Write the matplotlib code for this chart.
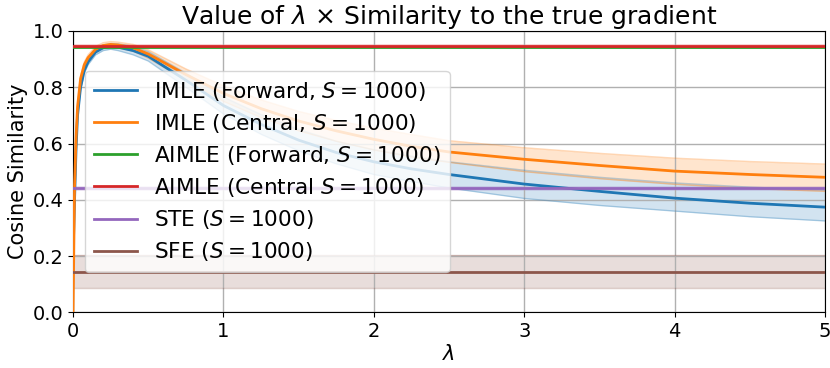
import numpy as np
import matplotlib.pyplot as plt

# lambda knots
lam = [0.0, 0.01, 0.02, 0.03, 0.05, 0.075, 0.1, 0.15, 0.2, 0.25, 0.3, 0.4, 0.5,
       0.75, 1.0, 1.25, 1.5, 1.75, 2.0, 2.25, 2.5, 3.0, 3.5, 4.0, 4.5, 5.0]

imle_fwd = [0.20, 0.40, 0.58, 0.70, 0.80, 0.86, 0.89, 0.925, 0.94, 0.945, 0.942, 0.93, 0.91,
            0.825, 0.735, 0.668, 0.612, 0.568, 0.535, 0.51, 0.49, 0.456, 0.43, 0.406, 0.388, 0.374]
imle_fwd_lo = [0.20, 0.39, 0.57, 0.69, 0.79, 0.85, 0.88, 0.915, 0.93, 0.935, 0.93, 0.915, 0.893,
               0.80, 0.705, 0.633, 0.574, 0.528, 0.49, 0.465, 0.442, 0.405, 0.38, 0.36, 0.34, 0.325]
imle_fwd_hi = [0.20, 0.41, 0.59, 0.71, 0.81, 0.87, 0.90, 0.935, 0.95, 0.955, 0.954, 0.945, 0.927,
               0.85, 0.765, 0.703, 0.65, 0.608, 0.578, 0.555, 0.535, 0.505, 0.48, 0.46, 0.445, 0.435]

imle_cen = [0.0, 0.45, 0.62, 0.73, 0.83, 0.88, 0.905, 0.935, 0.948, 0.952, 0.95, 0.94, 0.918,
            0.845, 0.778, 0.724, 0.68, 0.645, 0.615, 0.59, 0.57, 0.544, 0.522, 0.502, 0.49, 0.48]
imle_cen_lo = [0.0, 0.44, 0.61, 0.72, 0.82, 0.87, 0.895, 0.925, 0.938, 0.942, 0.94, 0.928, 0.903,
               0.825, 0.75, 0.692, 0.645, 0.608, 0.577, 0.552, 0.533, 0.5, 0.475, 0.455, 0.44, 0.43]
imle_cen_hi = [0.0, 0.46, 0.63, 0.74, 0.84, 0.89, 0.915, 0.945, 0.958, 0.962, 0.96, 0.952, 0.933,
               0.865, 0.805, 0.755, 0.714, 0.682, 0.655, 0.632, 0.61, 0.585, 0.565, 0.548, 0.536, 0.527]

aimle_fwd = 0.942
aimle_cen = 0.948
ste = [0.441, 0.432, 0.450]   # mean, low, high
sfe = [0.144, 0.087, 0.204]

labels = ['IMLE (Forward, $S = 1000$)', 'IMLE (Central, $S = 1000$)',
          'AIMLE (Forward, $S = 1000$)', 'AIMLE (Central $S = 1000$)',
          'STE ($S = 1000$)', 'SFE ($S = 1000$)']
colors = ['#1f77b4', '#ff7f0e', '#2ca02c', '#d62728', '#9467bd', '#8c564b']

fig, ax = plt.subplots(figsize=(8.3, 3.68), dpi=100)
fig.subplots_adjust(left=0.088, right=0.994, top=0.916, bottom=0.151)

x = np.array(lam)
ends = [0.0, 5.0]

# banded curves
for mean, lo, hi, c, lab in [(imle_fwd, imle_fwd_lo, imle_fwd_hi, colors[0], labels[0]),
                             (imle_cen, imle_cen_lo, imle_cen_hi, colors[1], labels[1])]:
    ax.plot(x, mean, color=c, lw=2, label=lab, zorder=3)
    ax.fill_between(x, lo, hi, color=c, alpha=0.2, lw=0)
    ax.plot(x, lo, color=c, lw=1, alpha=0.3)
    ax.plot(x, hi, color=c, lw=1, alpha=0.3)

# constant estimators
ax.plot(ends, [aimle_fwd] * 2, color=colors[2], lw=2, label=labels[2], zorder=3)
ax.fill_between(ends, aimle_fwd - 0.004, aimle_fwd + 0.004, color=colors[2], alpha=0.2, lw=0)
ax.plot(ends, [aimle_cen] * 2, color=colors[3], lw=2, label=labels[3], zorder=3)
ax.fill_between(ends, aimle_cen - 0.004, aimle_cen + 0.004, color=colors[3], alpha=0.2, lw=0)

ax.plot(ends, [ste[0]] * 2, color=colors[4], lw=2, label=labels[4], zorder=3)
ax.fill_between(ends, ste[1], ste[2], color=colors[4], alpha=0.2, lw=0)

ax.plot(ends, [sfe[0]] * 2, color=colors[5], lw=2, label=labels[5], zorder=3)
ax.fill_between(ends, sfe[1], sfe[2], color=colors[5], alpha=0.2, lw=0)
ax.plot(ends, [sfe[1]] * 2, color=colors[5], lw=1, alpha=0.3)
ax.plot(ends, [sfe[2]] * 2, color=colors[5], lw=1, alpha=0.3)

ax.set_xlim(0, 5)
ax.set_ylim(0, 1.0)
ax.set_xticks([0, 1, 2, 3, 4, 5])
ax.set_yticks([0.0, 0.2, 0.4, 0.6, 0.8, 1.0])
ax.grid(True, color='#b0b0b0', lw=1)
ax.tick_params(labelsize=14)
ax.set_xlabel('$\\lambda$', fontsize=15, labelpad=2)
ax.set_ylabel('Cosine Similarity', fontsize=15, labelpad=3)
ax.set_title('Value of $\\lambda$ $\\times$ Similarity to the true gradient', fontsize=18, pad=5)

ax.legend(loc='lower left', bbox_to_anchor=(0.016, 0.144), borderaxespad=0,
          fontsize=15.6, handlelength=2.0, labelspacing=0.42)

plt.savefig('out.png')
